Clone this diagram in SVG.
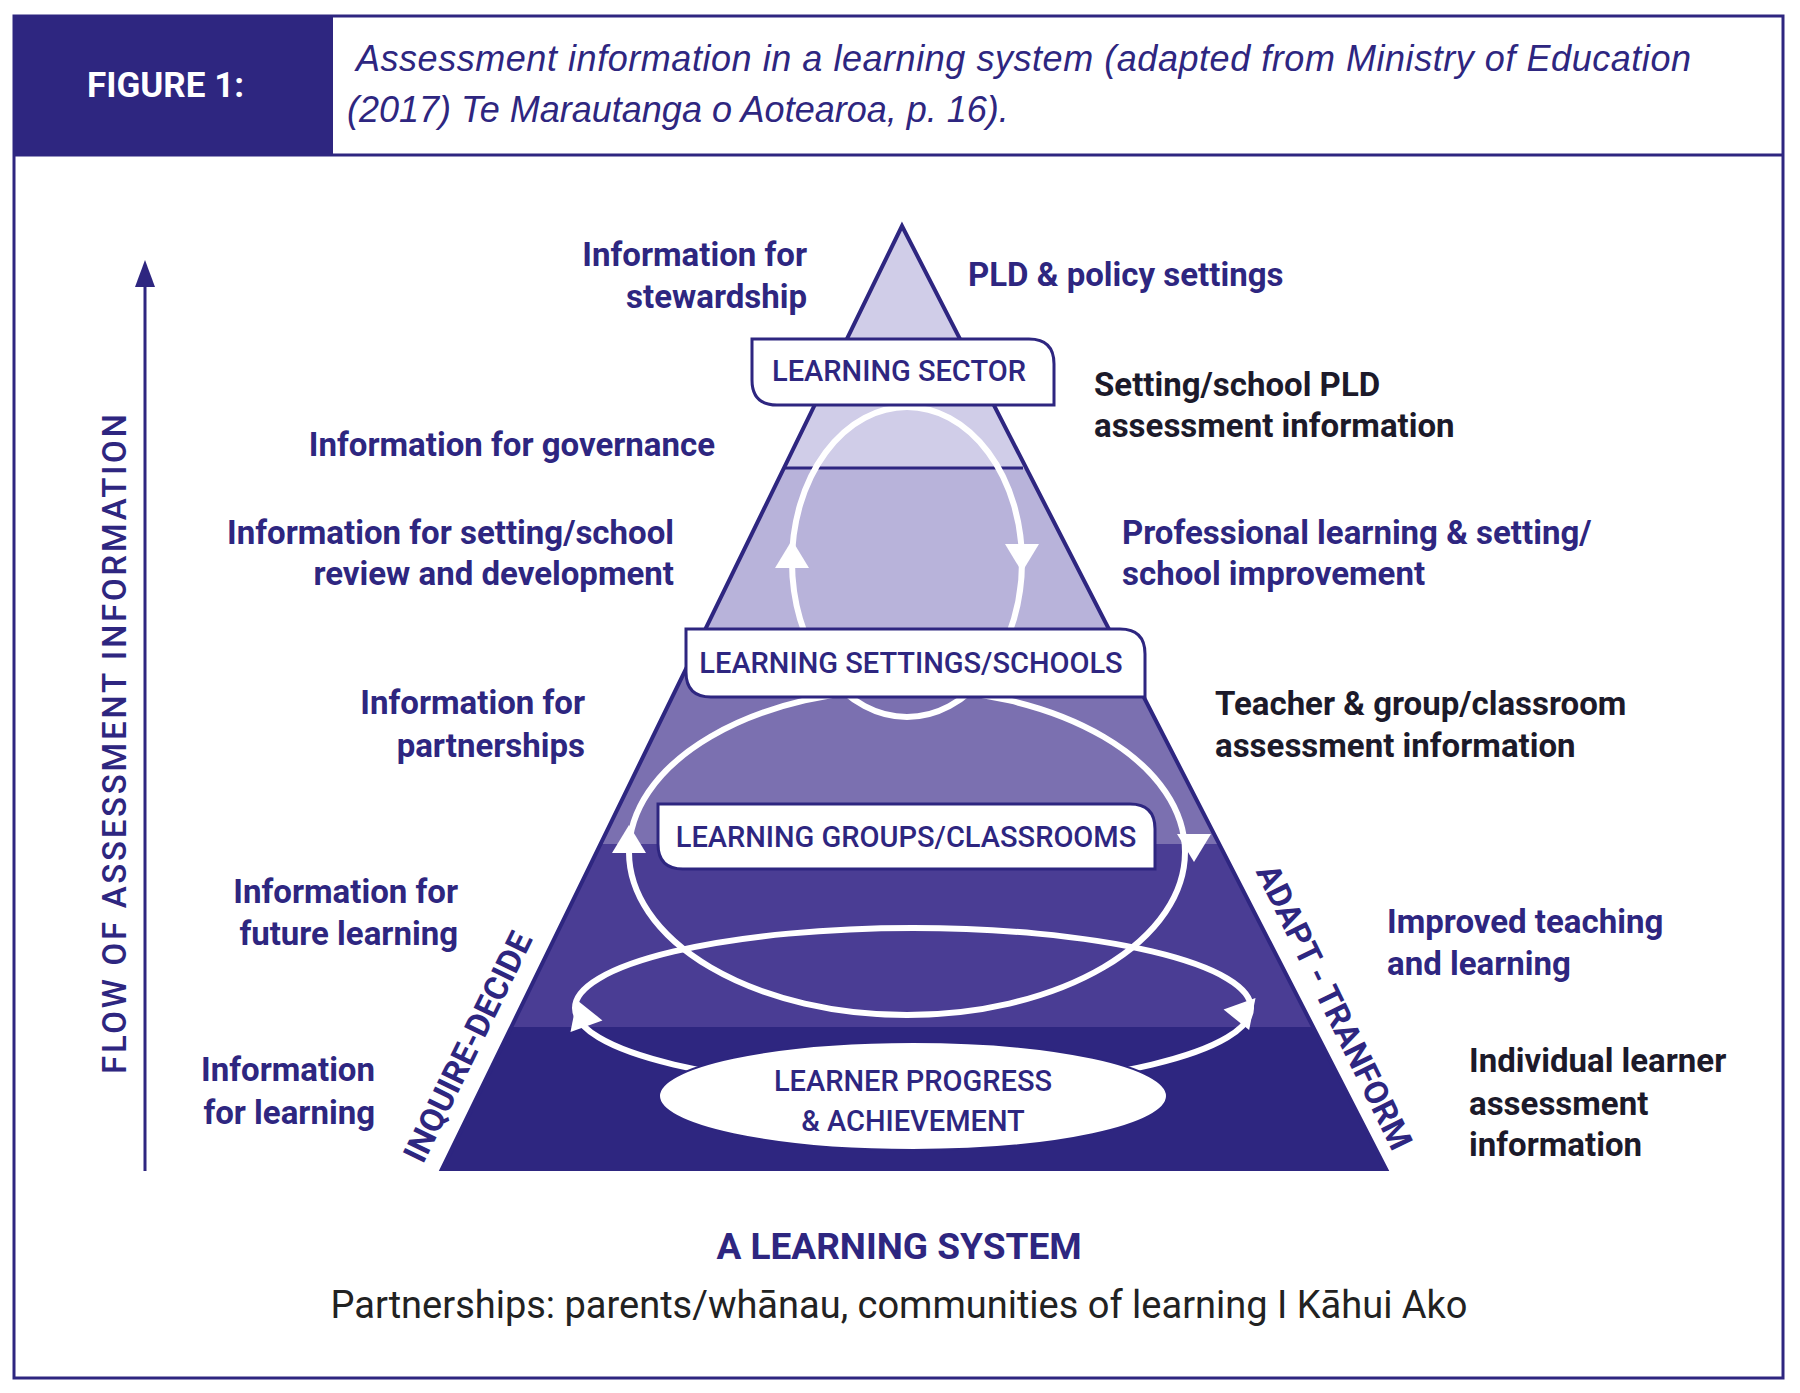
<svg xmlns="http://www.w3.org/2000/svg" width="1800" height="1393" viewBox="0 0 1800 1393">
<style>
.lb{font-family:Roboto,"Liberation Sans",sans-serif;font-weight:700;font-size:33px;fill:#2e2680}
.bk{fill:#1c1a2a}
.r{text-anchor:end}
.bx{font-family:Roboto,"Liberation Sans",sans-serif;font-weight:500;font-size:29px;fill:#2e2680;text-anchor:middle}
.box{fill:#fff;stroke:#2e2680;stroke-width:3}
.loop{fill:none;stroke:#fff;stroke-width:6}
</style>
<defs>
<clipPath id="tri"><polygon points="902,226 442,1169 1386,1169"/></clipPath>
<path id="ah" d="M0,-15 L17,13 L-17,13Z" fill="#fff"/>
</defs>
<rect x="0" y="0" width="1800" height="1393" fill="#fff"/>
<rect x="14" y="16" width="1769" height="1362" fill="none" stroke="#2e2680" stroke-width="3"/>
<rect x="14" y="16" width="319" height="139" fill="#2e2680"/>
<line x1="14" y1="155" x2="1783" y2="155" stroke="#2e2680" stroke-width="3"/>
<text x="87" y="97" font-family="Roboto,'Liberation Sans',sans-serif" font-weight="700" font-size="35" fill="#fff">FIGURE 1:</text>
<g font-family="'Liberation Sans',sans-serif" font-style="italic" font-size="36" fill="#2e2680">
<text x="356" y="71" textLength="1335">Assessment information in a learning system (adapted from Ministry of Education</text>
<text x="347" y="122">(2017) Te Marautanga o Aotearoa, p. 16).</text>
</g>
<g id="pyramid">
<g clip-path="url(#tri)">
<rect x="400" y="200" width="1000" height="268" fill="#d0cde8"/>
<rect x="400" y="468" width="1000" height="161" fill="#b8b3da"/>
<rect x="400" y="629" width="1000" height="215" fill="#7b70b0"/>
<rect x="400" y="844" width="1000" height="183" fill="#4a3d94"/>
<rect x="400" y="1027" width="1000" height="150" fill="#2e2680"/>
</g>
<line x1="784" y1="468" x2="1023" y2="468" stroke="#2e2680" stroke-width="3"/>
<polygon points="902,226 442,1169 1386,1169" fill="none" stroke="#2e2680" stroke-width="4"/>
</g>
<g id="connectors">
<ellipse class="loop" cx="907" cy="562" rx="115" ry="155"/>
<ellipse class="loop" cx="907" cy="852" rx="278" ry="163"/>
<ellipse class="loop" cx="913" cy="1008" rx="338" ry="80"/>
<use href="#ah" x="792" y="555"/>
<use href="#ah" transform="translate(1022,557) rotate(180)"/>
<use href="#ah" x="629" y="840"/>
<use href="#ah" transform="translate(1194,847) rotate(180)"/>
<use href="#ah" transform="translate(582,1014) rotate(-20)"/>
<use href="#ah" transform="translate(1244,1016) rotate(160)"/>
<line x1="145" y1="285" x2="145" y2="1171" stroke="#2e2680" stroke-width="3"/>
<polygon points="145,260 135,287 155,287" fill="#2e2680"/>
</g>
<g id="sector"><path class="box" d="M752,339 H1029 Q1054,339 1054,364 V405 H777 Q752,405 752,380 Z"/><text class="bx" x="899" y="381">LEARNING SECTOR</text></g>
<g id="settings"><path class="box" d="M686,629 H1120 Q1145,629 1145,654 V697 H711 Q686,697 686,672 Z"/><text class="bx" x="911" y="673">LEARNING SETTINGS/SCHOOLS</text></g>
<g id="groups"><path class="box" d="M658,804 H1130 Q1155,804 1155,829 V869 H683 Q658,869 658,844 Z"/><text class="bx" x="906" y="847">LEARNING GROUPS/CLASSROOMS</text></g>
<g id="learner"><ellipse cx="913" cy="1096" rx="254" ry="54" fill="#fff" stroke="#2e2680" stroke-width="2"/><text class="bx" x="913" y="1091">LEARNER PROGRESS</text><text class="bx" x="913" y="1131">&amp; ACHIEVEMENT</text></g>
<g id="labels">
<text class="lb r" x="807" y="266">Information for</text>
<text class="lb r" x="807" y="308">stewardship</text>
<text class="lb" x="968" y="286">PLD &amp; policy settings</text>
<text class="lb bk" x="1094" y="396">Setting/school PLD</text>
<text class="lb bk" x="1094" y="437">assessment information</text>
<text class="lb r" x="715" y="456">Information for governance</text>
<text class="lb r" x="674" y="544">Information for setting/school</text>
<text class="lb r" x="674" y="585">review and development</text>
<text class="lb" x="1122" y="544">Professional learning &amp; setting/</text>
<text class="lb" x="1122" y="585">school improvement</text>
<text class="lb r" x="585" y="714">Information for</text>
<text class="lb r" x="585" y="757">partnerships</text>
<text class="lb bk" x="1215" y="715">Teacher &amp; group/classroom</text>
<text class="lb bk" x="1215" y="757">assessment information</text>
<text class="lb r" x="458" y="903">Information for</text>
<text class="lb r" x="458" y="945">future learning</text>
<text class="lb" x="1387" y="933">Improved teaching</text>
<text class="lb" x="1387" y="975">and learning</text>
<text class="lb r" x="375" y="1081">Information</text>
<text class="lb r" x="375" y="1124">for learning</text>
<text class="lb bk" x="1469" y="1072">Individual learner</text>
<text class="lb bk" x="1469" y="1115">assessment</text>
<text class="lb bk" x="1469" y="1156">information</text>
<text class="lb" transform="translate(126,744) rotate(-90)" text-anchor="middle" style="font-weight:500" textLength="660">FLOW OF ASSESSMENT INFORMATION</text>
<text class="lb" transform="translate(478,1052) rotate(-64)" text-anchor="middle">INQUIRE-DECIDE</text>
<text class="lb" transform="translate(1324,1012) rotate(64)" text-anchor="middle">ADAPT - TRANFORM</text>
<text class="lb" x="899" y="1259" text-anchor="middle" style="font-size:37px">A LEARNING SYSTEM</text>
<text x="899" y="1318" text-anchor="middle" font-family="Roboto,'Liberation Sans',sans-serif" font-size="38" fill="#222">Partnerships: parents/whānau, communities of learning I Kāhui Ako</text>
</g>
</svg>
